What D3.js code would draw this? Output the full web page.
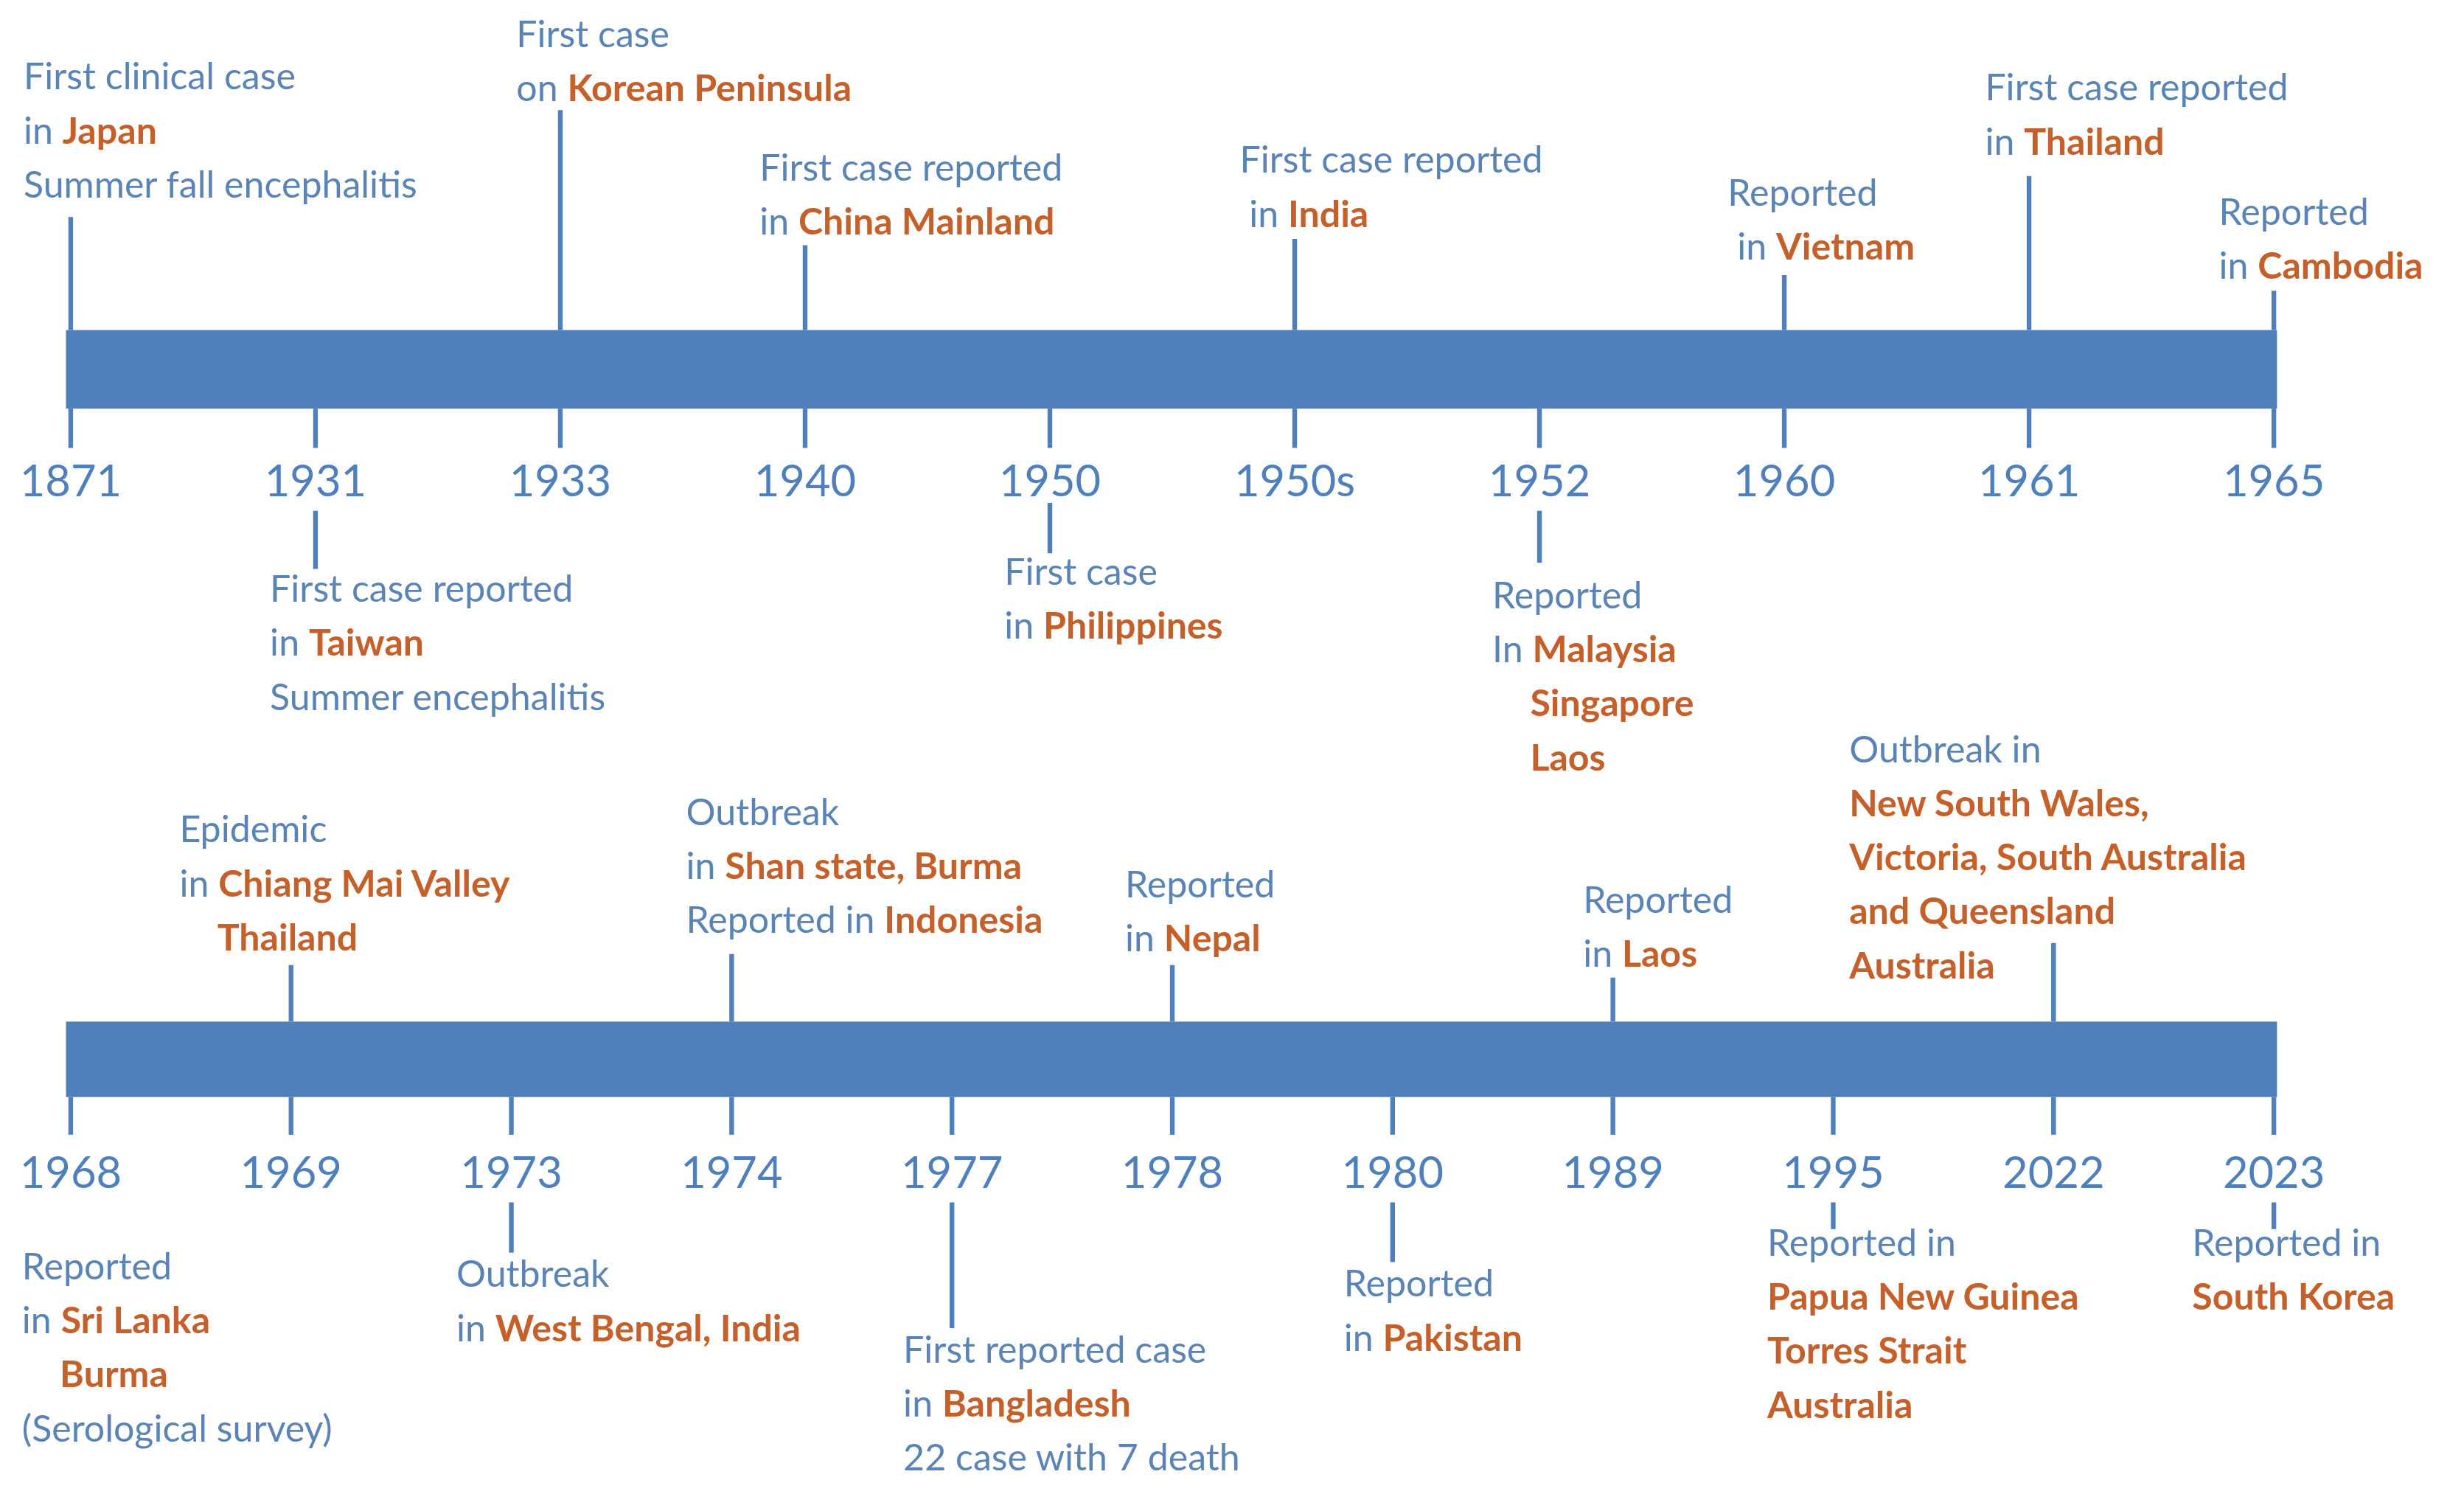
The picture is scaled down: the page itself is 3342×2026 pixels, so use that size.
<!DOCTYPE html>
<html><head><meta charset="utf-8">
<script src="https://cdn.jsdelivr.net/npm/d3@7"></script>
<style>body{margin:0;background:#fff}</style></head>
<body><svg id="c" width="3342" height="2026"></svg>
<script>
const topYears = ["1871","1931","1933","1940","1950","1950s","1952","1960","1961","1965"];
const bottomYears = ["1968","1969","1973","1974","1977","1978","1980","1989","1995","2022","2023"];
// events: segments [text, orange?]
const topEvents = [
 {year:"1871", side:"up", lines:[[["First clinical case",0]],[["in ",0],["Japan",1]],[["Summer fall encephalitis",0]]]},
 {year:"1933", side:"up", lines:[[["First case",0]],[["on ",0],["Korean Peninsula",1]]]},
 {year:"1940", side:"up", lines:[[["First case reported",0]],[["in ",0],["China Mainland",1]]]},
 {year:"1950s", side:"up", lines:[[["First case reported",0]],[[" in ",0],["India",1]]]},
 {year:"1960", side:"up", lines:[[["Reported",0]],[[" in ",0],["Vietnam",1]]]},
 {year:"1961", side:"up", lines:[[["First case reported",0]],[["in ",0],["Thailand",1]]]},
 {year:"1965", side:"up", lines:[[["Reported",0]],[["in ",0],["Cambodia",1]]]},
 {year:"1931", side:"down", lines:[[["First case reported",0]],[["in ",0],["Taiwan",1]],[["Summer encephalitis",0]]]},
 {year:"1950", side:"down", lines:[[["First case",0]],[["in ",0],["Philippines",1]]]},
 {year:"1952", side:"down", lines:[[["Reported",0]],[["In ",0],["Malaysia",1]],[["    ",0],["Singapore",1]],[["    ",0],["Laos",1]]]}
];
const bottomEvents = [
 {year:"1969", side:"up", lines:[[["Epidemic",0]],[["in ",0],["Chiang Mai Valley",1]],[["    ",0],["Thailand",1]]]},
 {year:"1974", side:"up", lines:[[["Outbreak",0]],[["in ",0],["Shan state, Burma",1]],[["Reported in ",0],["Indonesia",1]]]},
 {year:"1978", side:"up", lines:[[["Reported",0]],[["in ",0],["Nepal",1]]]},
 {year:"1989", side:"up", lines:[[["Reported",0]],[["in ",0],["Laos",1]]]},
 {year:"2022", side:"up", lines:[[["Outbreak in",0]],[["New South Wales,",1]],[["Victoria, South Australia",1]],[["and Queensland",1]],[["Australia",1]]]},
 {year:"1968", side:"down", lines:[[["Reported",0]],[["in ",0],["Sri Lanka",1]],[["    ",0],["Burma",1]],[["(Serological survey)",0]]]},
 {year:"1973", side:"down", lines:[[["Outbreak",0]],[["in ",0],["West Bengal, India",1]]]},
 {year:"1977", side:"down", lines:[[["First reported case",0]],[["in ",0],["Bangladesh",1]],[["22 case with 7 death",0]]]},
 {year:"1980", side:"down", lines:[[["Reported",0]],[["in ",0],["Pakistan",1]]]},
 {year:"1995", side:"down", lines:[[["Reported in",0]],[["Papua New Guinea",1]],[["Torres Strait",1]],[["Australia",1]]]},
 {year:"2023", side:"down", lines:[[["Reported in",0]],[["South Korea",1]]]}
];
// layout (in reference-display units, scaled below): dx text offset, stem end, first line centre
const layout = {
 "1871":{dx:-30,stem:138,y0:48},"1933":{dx:-28,stem:70,y0:21},"1940":{dx:-29,stem:156,y0:106},
 "1950s":{dx:-35,stem:152,y0:101},"1960":{dx:-36,stem:175,y0:122},"1961":{dx:-28,stem:112,y0:55},
 "1965":{dx:-35,stem:185,y0:134},"1931":{dx:-29,stem:362,s0:325,y0:374},"1950":{dx:-29,stem:352,s0:320,y0:363},
 "1952":{dx:-30,stem:358,s0:325,y0:378},
 "1969":{dx:-71,stem:614,y0:527},"1974":{dx:-29,stem:607,y0:516},"1978":{dx:-30,stem:614,y0:562},
 "1989":{dx:-19,stem:622,y0:572},"2022":{dx:-130,stem:600,y0:476},
 "1968":{dx:-31,y0:805},"1973":{dx:-35,stem:797,s0:765,y0:810},"1977":{dx:-31,stem:845,s0:765,y0:858},
 "1980":{dx:-31,stem:803,s0:765,y0:816},"1995":{dx:-42,stem:782,s0:765,y0:790},"2023":{dx:-52,stem:782,s0:765,y0:790}
};
const k = 3342/1568;
const BLUE="#4f80bb", TXT="#5b84b6", OR="#c5602a", FONT="Lato, 'Open Sans', sans-serif";
const svg = d3.select("#c");
const g = svg.append("g").attr("transform",`scale(${k})`);
const LH = 34.4;

function timeline(years, events, barTop, barBot, tickEnd, labelY){
  const x = d3.scalePoint().domain(years).range([45,1447]);
  g.append("rect").attr("x",42).attr("y",barTop).attr("width",1449-42).attr("height",barBot-barTop).attr("fill",BLUE);
  g.selectAll(null).data(years).enter().append("line")
    .attr("x1",d=>x(d)).attr("x2",d=>x(d)).attr("y1",barBot).attr("y2",tickEnd)
    .attr("stroke",BLUE).attr("stroke-width",3);
  g.selectAll(null).data(years).enter().append("text")
    .attr("x",d=>x(d)).attr("y",labelY).attr("text-anchor","middle").attr("dominant-baseline","central")
    .attr("font-family",FONT).attr("font-size",28).attr("fill",BLUE).text(d=>d);
  events.forEach(ev=>{
    const L = layout[ev.year], cx = x(ev.year);
    if(L.stem!==undefined){
      const y1 = ev.side==="up" ? barTop : L.s0;
      g.append("line").attr("x1",cx).attr("x2",cx).attr("y1",y1).attr("y2",L.stem)
        .attr("stroke",BLUE).attr("stroke-width",3);
    }
    ev.lines.forEach((ln,i)=>{
      const t = g.append("text").attr("x",cx+L.dx).attr("y",L.y0+i*LH)
        .attr("dominant-baseline","central").attr("font-family",FONT).attr("font-size",23.5)
        .attr("xml:space","preserve").style("white-space","pre");
      ln.forEach(([s,o])=>t.append("tspan").text(s).attr("fill",o?OR:TXT).attr("font-weight",o?"bold":"normal"));
    });
  });
}
timeline(topYears, topEvents, 210, 260, 285, 305);
timeline(bottomYears, bottomEvents, 650, 698, 722, 745);
</script></body></html>
